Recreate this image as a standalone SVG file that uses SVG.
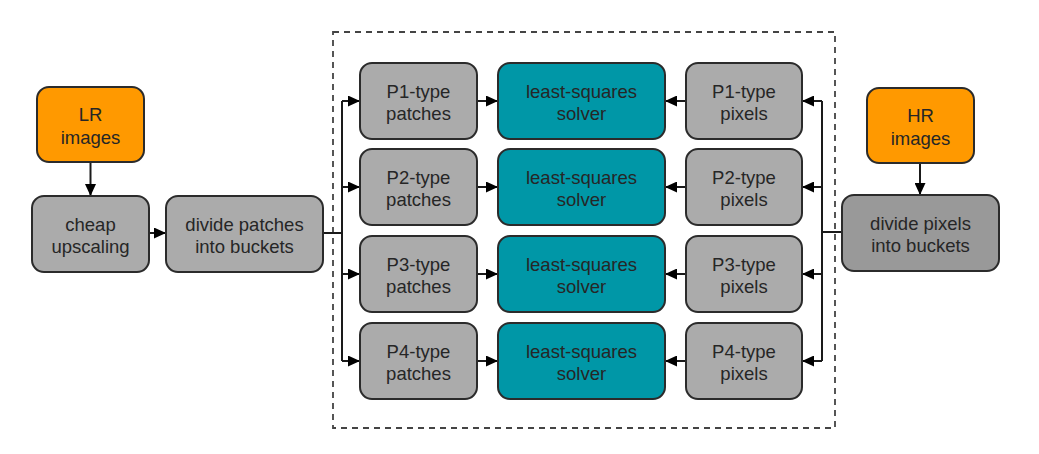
<svg xmlns="http://www.w3.org/2000/svg" width="1039" height="454" viewBox="0 0 1039 454">
<defs>
<style>
.box{stroke:#2b2b2b;stroke-width:2}
.orange{fill:#FF9900}
.gray{fill:#ABABAB}
.dark{fill:#999999}
.teal{fill:#0097A7}
text{font-family:"Liberation Sans",Arial,sans-serif;font-size:18.5px;fill:#262626;text-anchor:middle}
.conn{stroke:#1a1a1a;stroke-width:2;fill:none}
</style>
<marker id="ah" viewBox="0 0 12 11" refX="12" refY="5.5" markerWidth="12" markerHeight="11" markerUnits="userSpaceOnUse" orient="auto">
<path d="M0,0 L12,5.5 L0,11 z" fill="#000"/>
</marker>
</defs>
<rect width="1039" height="454" fill="#fff"/>
<rect id="frame" x="333" y="32" width="502" height="396" fill="none" stroke="#444" stroke-width="1.8" stroke-dasharray="6,5"/>

<g id="connectors">
<path class="conn" d="M90.5,162 V196" marker-end="url(#ah)"/>
<path class="conn" d="M149,233 H166" marker-end="url(#ah)"/>
<path class="conn" d="M323,233 H342"/>
<path class="conn" d="M342,101 V361"/>
<path class="conn" d="M342,101 H360" marker-end="url(#ah)"/>
<path class="conn" d="M342,187 H360" marker-end="url(#ah)"/>
<path class="conn" d="M342,274 H360" marker-end="url(#ah)"/>
<path class="conn" d="M342,361 H360" marker-end="url(#ah)"/>
<path class="conn" d="M477,101 H498" marker-end="url(#ah)"/>
<path class="conn" d="M477,187 H498" marker-end="url(#ah)"/>
<path class="conn" d="M477,274 H498" marker-end="url(#ah)"/>
<path class="conn" d="M477,361 H498" marker-end="url(#ah)"/>
<path class="conn" d="M686,101 H665" marker-end="url(#ah)"/>
<path class="conn" d="M686,187 H665" marker-end="url(#ah)"/>
<path class="conn" d="M686,274 H665" marker-end="url(#ah)"/>
<path class="conn" d="M686,361 H665" marker-end="url(#ah)"/>
<path class="conn" d="M842,232 H822"/>
<path class="conn" d="M822,101 V361"/>
<path class="conn" d="M822,101 H802" marker-end="url(#ah)"/>
<path class="conn" d="M822,187 H802" marker-end="url(#ah)"/>
<path class="conn" d="M822,274 H802" marker-end="url(#ah)"/>
<path class="conn" d="M822,361 H802" marker-end="url(#ah)"/>
<path class="conn" d="M920,163 V195" marker-end="url(#ah)"/>
</g>

<g id="lr"><rect class="box orange" x="37" y="87" width="107" height="75" rx="12"/><text x="90.5" y="121">LR</text><text x="90.5" y="143.5">images</text></g>
<g id="cheap"><rect class="box gray" x="32" y="196" width="117" height="76" rx="12"/><text x="90.5" y="230.5">cheap</text><text x="90.5" y="253">upscaling</text></g>
<g id="divpatches"><rect class="box gray" x="166" y="196" width="157" height="76" rx="12"/><text x="244.5" y="230.5">divide patches</text><text x="244.5" y="253">into buckets</text></g>

<g id="p1patches"><rect class="box gray" x="360" y="63" width="117" height="76" rx="12"/><text x="418.5" y="97.5">P1-type</text><text x="418.5" y="120">patches</text></g>
<g id="p2patches"><rect class="box gray" x="360" y="149" width="117" height="76" rx="12"/><text x="418.5" y="183.5">P2-type</text><text x="418.5" y="206">patches</text></g>
<g id="p3patches"><rect class="box gray" x="360" y="236" width="117" height="76" rx="12"/><text x="418.5" y="270.5">P3-type</text><text x="418.5" y="293">patches</text></g>
<g id="p4patches"><rect class="box gray" x="360" y="323" width="117" height="76" rx="12"/><text x="418.5" y="357.5">P4-type</text><text x="418.5" y="380">patches</text></g>

<g id="solver1"><rect class="box teal" x="498" y="63" width="167" height="76" rx="12"/><text x="581.5" y="97.5">least-squares</text><text x="581.5" y="120">solver</text></g>
<g id="solver2"><rect class="box teal" x="498" y="149" width="167" height="76" rx="12"/><text x="581.5" y="183.5">least-squares</text><text x="581.5" y="206">solver</text></g>
<g id="solver3"><rect class="box teal" x="498" y="236" width="167" height="76" rx="12"/><text x="581.5" y="270.5">least-squares</text><text x="581.5" y="293">solver</text></g>
<g id="solver4"><rect class="box teal" x="498" y="323" width="167" height="76" rx="12"/><text x="581.5" y="357.5">least-squares</text><text x="581.5" y="380">solver</text></g>

<g id="p1pixels"><rect class="box gray" x="686" y="63" width="116" height="76" rx="12"/><text x="744" y="97.5">P1-type</text><text x="744" y="120">pixels</text></g>
<g id="p2pixels"><rect class="box gray" x="686" y="149" width="116" height="76" rx="12"/><text x="744" y="183.5">P2-type</text><text x="744" y="206">pixels</text></g>
<g id="p3pixels"><rect class="box gray" x="686" y="236" width="116" height="76" rx="12"/><text x="744" y="270.5">P3-type</text><text x="744" y="293">pixels</text></g>
<g id="p4pixels"><rect class="box gray" x="686" y="323" width="116" height="76" rx="12"/><text x="744" y="357.5">P4-type</text><text x="744" y="380">pixels</text></g>

<g id="hr"><rect class="box orange" x="867" y="88" width="107" height="75" rx="12"/><text x="920.5" y="122">HR</text><text x="920.5" y="144.5">images</text></g>
<g id="divpixels"><rect class="box dark" x="842" y="195" width="157" height="76" rx="12"/><text x="920.5" y="229.5">divide pixels</text><text x="920.5" y="252">into buckets</text></g>
</svg>
